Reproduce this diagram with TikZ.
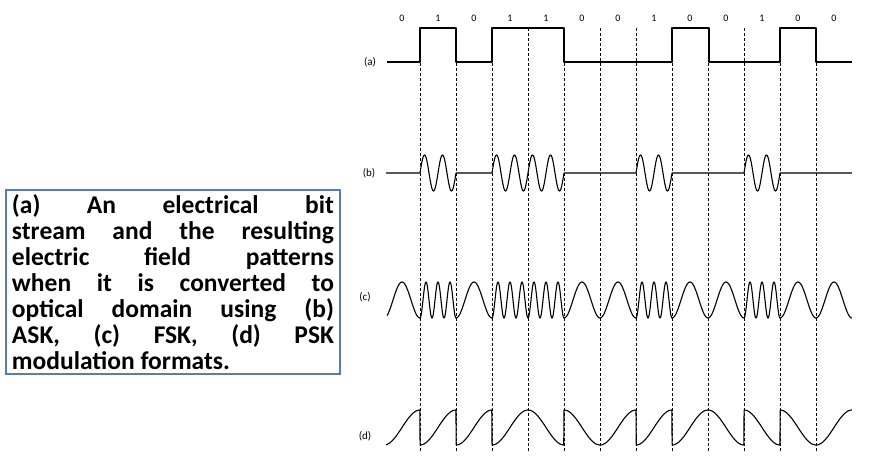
\documentclass[tikz,border=0pt]{standalone}
\usepackage{fontspec}
\setmainfont{Carlito}
\definecolor{boxblue}{RGB}{85,125,185}
\begin{document}
\begin{tikzpicture}[x=1pt,y=-1pt,
  sig/.style={line width=1.1pt,line join=round},
  grid/.style={densely dashed,line width=0.5pt},
  lab/.style={font=\fontsize{11}{12}\selectfont}]
\useasboundingbox (0,0) rectangle (886,459);
\def\bits{{0,1,0,1,1,0,0,1,0,0,1,0,0}}
% bit labels and dashed grid
\foreach \b [count=\k from 0] in {0,1,0,1,1,0,0,1,0,0,1,0,0}
  \node[lab,font=\fontsize{10}{11}\selectfont] (bit\k) at ({402+36*\k},18) {\b};
\foreach \k in {0,...,11}
  \draw[grid] ({420+36*\k},28) -- ({420+36*\k},452);
% (a)
\node[lab] (la) at (370,62) {(a)};
\draw[sig] (387,62) -- (420,62) -- (420,28) -- (456,28) -- (456,62) -- (492,62) -- (492,28) -- (564,28) -- (564,62)
  -- (672,62) -- (672,28) -- (709,28) -- (709,62) -- (780,62) -- (780,28) -- (816,28) -- (816,62) -- (852,62);
% (b)
\node[lab] (lb) at (369,173) {(b)};
\draw[sig] plot[domain=386:851.9,samples=1400]
  (\x,{173-18*\bits[int(floor((\x-384)/36))]*sin(720*((\x-384)/36))});
% (c)
\node[lab] (lc) at (365,297) {(c)};
\draw[sig] plot[domain=387:851.9,samples=1600]
  (\x,{300+18*cos((1+2*\bits[int(floor((\x-384)/36))])*(360*((\x-384)/36)))});
% (d)
\node[lab] (ld) at (365,436) {(d)};
\draw[sig] plot[domain=386:851.9,samples=1600]
  (\x,{445-35*(1-cos(180*((\x-384)/36)+180*\bits[int(floor((\x-384)/36))]))/2});
% text box
\node[draw=boxblue,line width=2pt,text width=322pt,align=justify,inner xsep=6pt,inner ysep=4pt,
  font=\bfseries\fontsize{25.5}{26}\selectfont] (box) at (173,282)
  {(a) An electrical bit\linebreak stream and the resulting\linebreak electric field patterns\linebreak when it is converted to\linebreak optical domain using (b)\linebreak ASK, (c) FSK, (d) PSK\linebreak modulation formats.};
\end{tikzpicture}
\end{document}
